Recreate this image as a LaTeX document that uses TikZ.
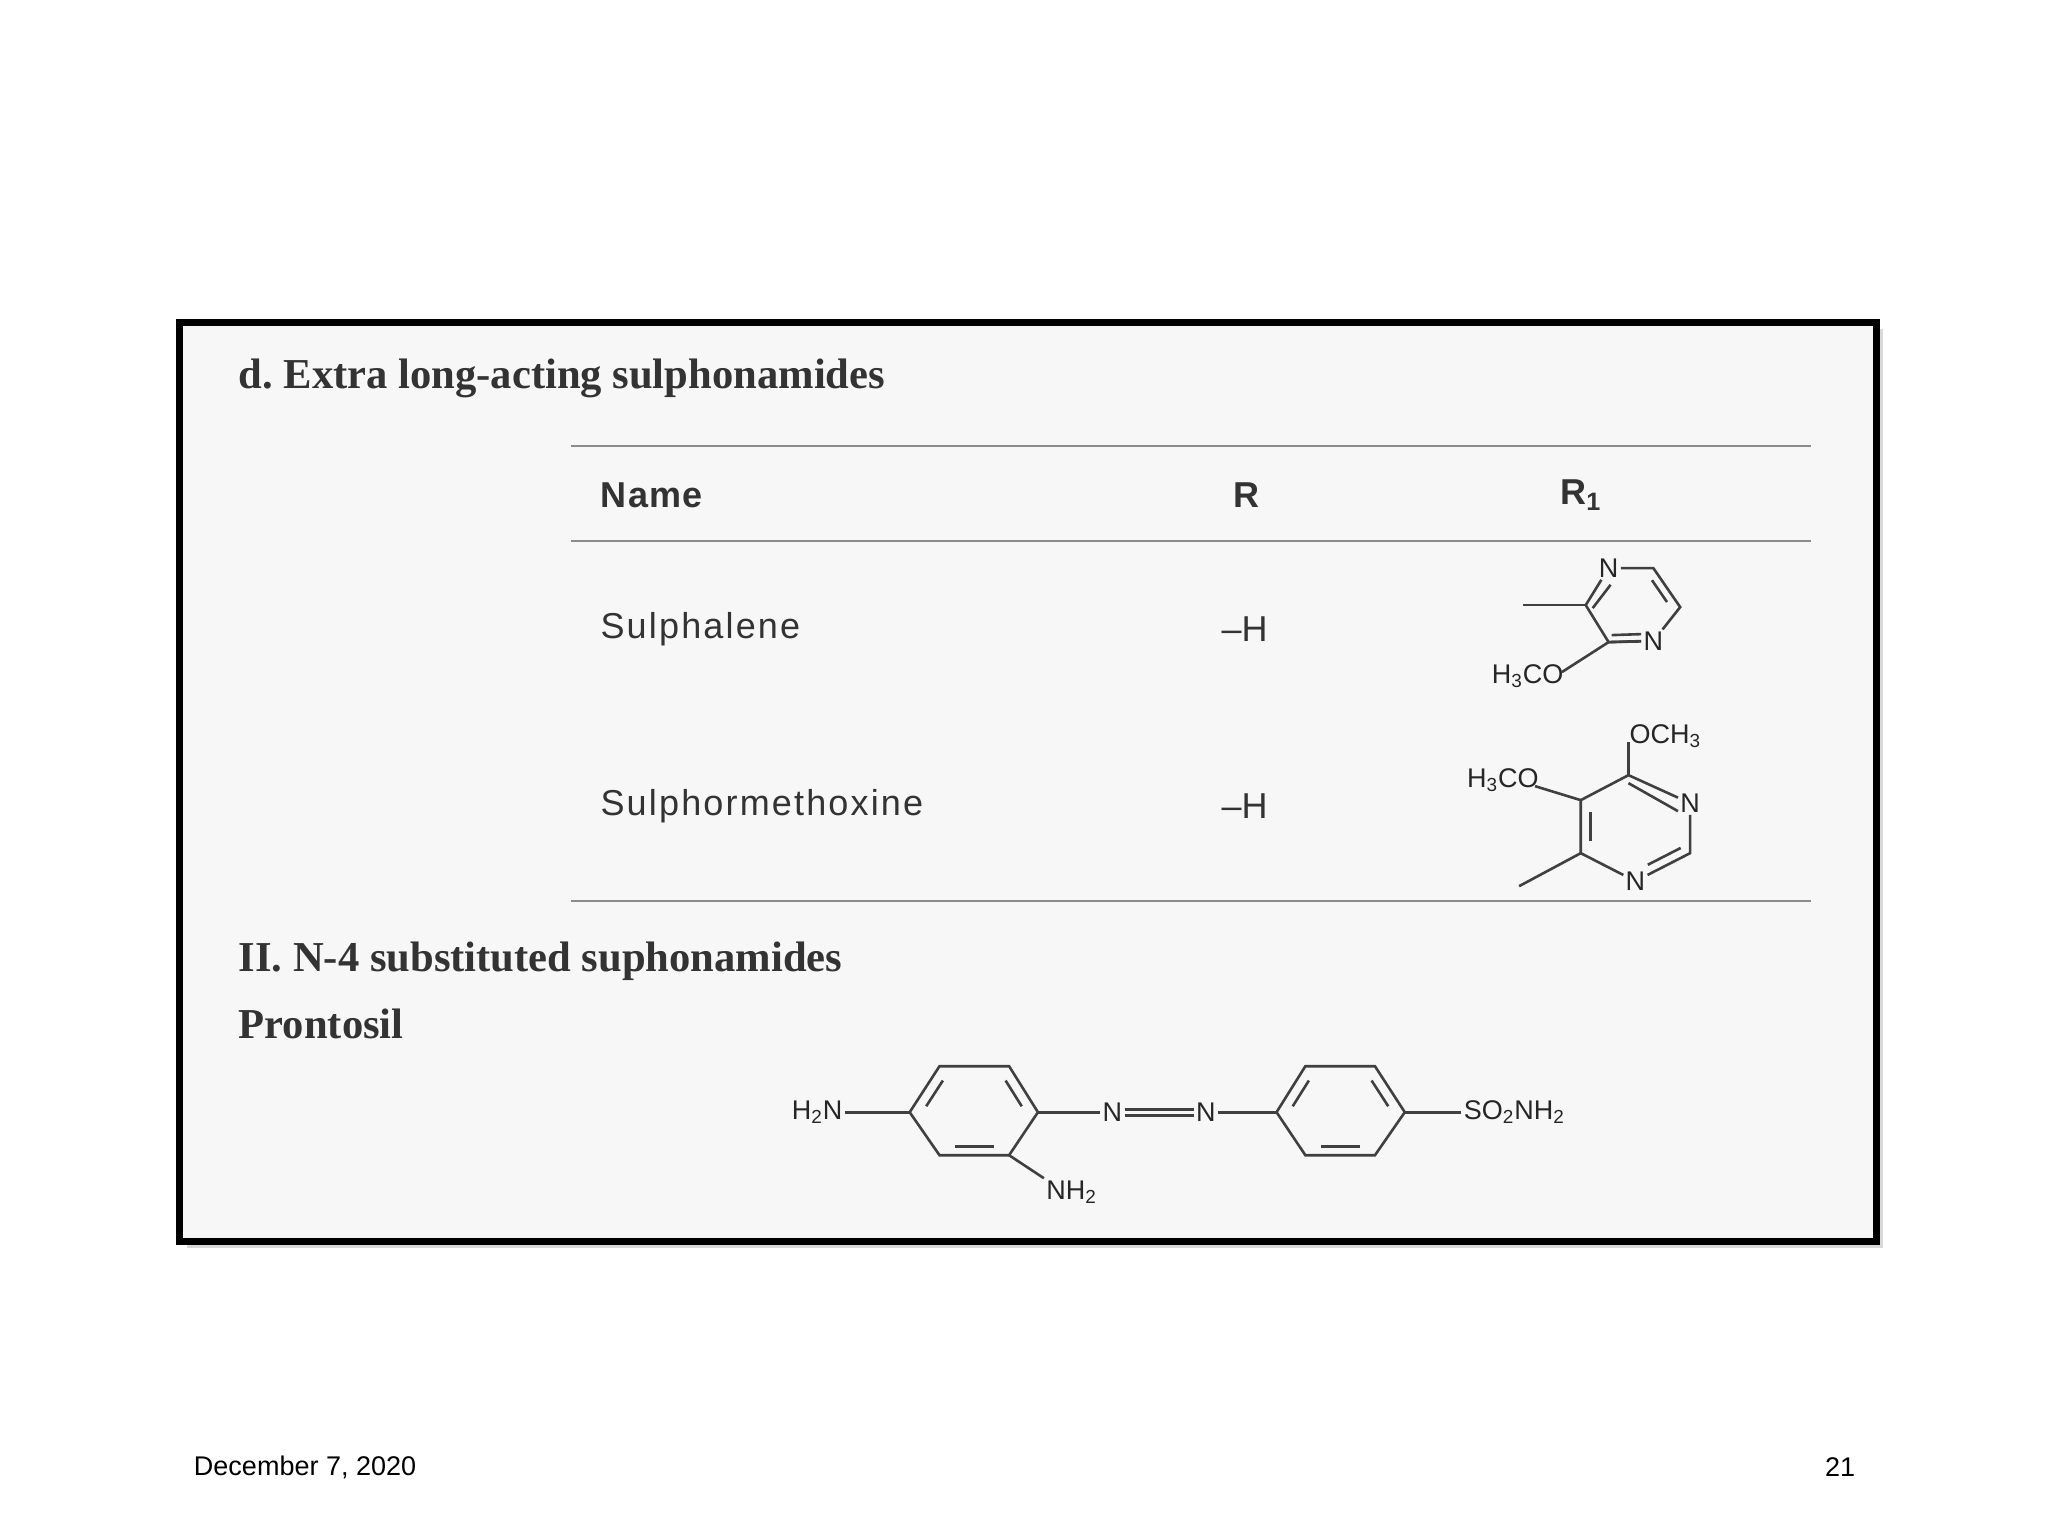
\documentclass[tikz,border=0pt]{standalone}
\usepackage{fontspec}
\setmainfont{Liberation Serif}
\setsansfont{Liberation Sans}
\usetikzlibrary{calc}
\tikzset{
 atom/.style={font=\sffamily\fontsize{13.5}{15}\selectfont, inner sep=1pt, text=black!85},
 bond/.style={line width=1.3pt, black!75},
 tbl/.style={font=\sffamily\addfontfeature{LetterSpace=6}\fontsize{18}{20}\selectfont, anchor=west, text=black!80},
 hdr/.style={font=\sffamily\bfseries\addfontfeature{LetterSpace=4}\fontsize{18}{20}\selectfont, text=black!80},
 ttl/.style={font=\bfseries\fontsize{21.3}{24}\selectfont, anchor=west, text=black!80},
 rule/.style={line width=1.3pt, black!45},
 foot/.style={font=\sffamily\fontsize{13.5}{15}\selectfont}
}
\newcommand{\dbl}[3]{\draw[bond] ($($(#1)!.15!(#2)$)!.2!(#3)$) -- ($($(#1)!.85!(#2)$)!.2!(#3)$);}
\begin{document}
\begin{tikzpicture}[x=0.497pt,y=-0.5pt]
\useasboundingbox (0,0) rectangle (2060,1513);
\fill[white] (0,0) rectangle (2060,1513);
\fill[black!15] (188,329) rectangle (1894,1248);
\fill[white!97!black] (181,322) rectangle (1887,1241);
\draw[line width=3.5pt] (181,322) rectangle (1887,1241);
\node[ttl] (title) at (233,378) {d.\ Extra long-acting sulphonamides};
\draw[rule] (574,446) -- (1822,446);
\draw[rule] (574,541) -- (1822,541);
\draw[rule] (574,901) -- (1822,901);
\node[hdr, anchor=west] (hname) at (597,495) {Name};
\node[hdr] (hr) at (1254,495) {R};
\node[hdr] (hr1) at (1590,495) {R\textsubscript{1}};
\node[tbl] (s1) at (597,629) {Sulphalene};
\node[tbl, anchor=center] (h1) at (1252,629) {\addfontfeature{LetterSpace=0}–H};
\node[tbl] (s2) at (597,806) {Sulphormethoxine};
\node[tbl, anchor=center] (h2) at (1252,806) {\addfontfeature{LetterSpace=0}–H};
\node[ttl] (sec) at (233,961) {II.\ N-4 substituted suphonamides};
\node[ttl] (pro) at (233,1024) {Prontosil};
% pyrazine
\coordinate (pc) at (1640,605);
\node[atom] (pn1) at (1618,568) {N};
\coordinate (pc6) at (1663,568);
\coordinate (pc5) at (1690,607);
\node[atom] (pn4) at (1663,641) {N};
\coordinate (pc3) at (1618,642);
\coordinate (pc2) at (1595,605);
\coordinate (pme) at (1532,605);
\node[atom, anchor=east] (pome) at (1575,676) {H\textsubscript{3}CO};
\draw[bond] (pn1) -- (pc6) -- (pc5) -- (pn4) -- (pc3) -- (pc2) -- (pn1);
\dbl{pc6}{pc5}{pc}
\draw[bond] (pc3) -- (pn4.west);
\draw[bond] ($(pc3)+(3,-7)$) -- ($(pn4.west)+(0,-7)$);
\draw[bond] ($(pc2)+(7,3)$) -- ($(pn1.south)+(2,5)$);
\draw[bond] (pme) -- (pc2);
\draw[bond] (pome.east) ++(-4,-4) -- (pc3);
% pyrimidine
\coordinate (mc) at (1638,826);
\coordinate (mc4) at (1638,775);
\node[atom] (mn3) at (1700,803) {N};
\coordinate (mc2) at (1700,853);
\node[atom] (mn1) at (1645,881) {N};
\coordinate (mc6) at (1590,853);
\coordinate (mc5) at (1590,800);
\node[atom, anchor=south] (moch) at (1675,750) {OCH\textsubscript{3}};
\node[atom, anchor=east] (mome) at (1550,780) {H\textsubscript{3}CO};
\coordinate (mme) at (1528,886);
\draw[bond] (mc4) -- (mn3) -- (mc2) -- (mn1) -- (mc6) -- (mc5) -- (mc4);
\dbl{mc5}{mc6}{mc}
\draw[bond] ($(mc4)+(0,8)$) -- ($(mn3.west)+(0,8)$);
\draw[bond] ($($(mc2)!.1!(mn1)$)+(-4,-8)$) -- ($($(mc2)!.7!(mn1)$)+(-4,-8)$);
\draw[bond] (mc4) -- (1638,742);
\draw[bond] (mome.east) ++(-6,6) -- (mc5);
\draw[bond] (mme) -- (mc6);
% prontosil
\node[atom] (ph2n) at (822,1112) {H\textsubscript{2}N};
\coordinate (a1) at (915,1112); \coordinate (a2) at (945,1066); \coordinate (a3) at (1015,1066);
\coordinate (a4) at (1044,1112); \coordinate (a5) at (1015,1155); \coordinate (a6) at (945,1155);
\coordinate (ac) at (980,1110);
\draw[bond] (a1) -- (a2) -- (a3) -- (a4) -- (a5) -- (a6) -- cycle;
\dbl{a1}{a2}{ac} \dbl{a3}{a4}{ac} \dbl{a5}{a6}{ac}
\node[atom] (pna) at (1119,1112) {N};
\node[atom] (pnb) at (1213,1112) {N};
\coordinate (b1) at (1284,1112); \coordinate (b2) at (1313,1066); \coordinate (b3) at (1383,1066);
\coordinate (b4) at (1413,1112); \coordinate (b5) at (1383,1155); \coordinate (b6) at (1313,1155);
\coordinate (bc) at (1348,1110);
\draw[bond] (b1) -- (b2) -- (b3) -- (b4) -- (b5) -- (b6) -- cycle;
\dbl{b1}{b2}{bc} \dbl{b3}{b4}{bc} \dbl{b5}{b6}{bc}
\node[atom, anchor=west] (pso) at (1470,1112) {SO\textsubscript{2}NH\textsubscript{2}};
\node[atom, anchor=north west] (pnh) at (1050,1178) {NH\textsubscript{2}};
\draw[bond] (ph2n) -- (a1);
\draw[bond] (a4) -- (pna);
\draw[bond] ($(pna.east)+(0,-3)$) -- ($(pnb.west)+(0,-3)$);
\draw[bond] ($(pna.east)+(0,3)$) -- ($(pnb.west)+(0,3)$);
\draw[bond] (pnb) -- (b1);
\draw[bond] (b4) -- (pso.west);
\draw[bond] (a5) -- (pnh.north west);
\node[foot, anchor=west] (date) at (188,1467) {December 7, 2020};
\node[foot, anchor=east] (page) at (1873,1467) {21};
\end{tikzpicture}
\end{document}
